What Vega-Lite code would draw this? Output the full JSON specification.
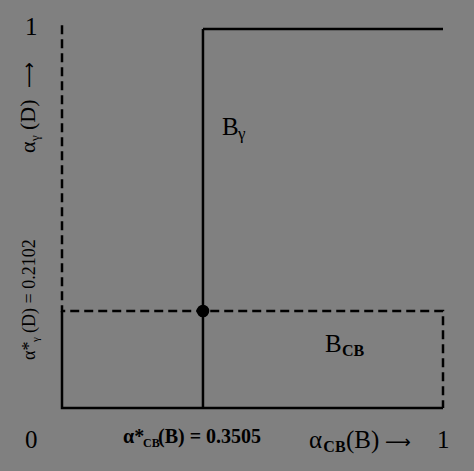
{
  "$schema": "https://vega.github.io/schema/vega-lite/v6.json",
  "background": "#808080",
  "autosize": "none",
  "width": 381,
  "height": 379,
  "padding": {"left": 62, "top": 29, "right": 31, "bottom": 63},
  "view": {"stroke": null},
  "datasets": {
    "edges": [
      {"seg": "left", "style": "solid", "order": 1, "x": 0, "y": 0.256},
      {"seg": "left", "style": "solid", "order": 2, "x": 0, "y": 0},
      {"seg": "left", "style": "solid", "order": 3, "x": 1, "y": 0},
      {"seg": "gamma", "style": "solid", "order": 1, "x": 0.37, "y": 0},
      {"seg": "gamma", "style": "solid", "order": 2, "x": 0.37, "y": 1},
      {"seg": "gamma", "style": "solid", "order": 3, "x": 1, "y": 1},
      {"seg": "cb", "style": "dashed", "order": 1, "x": 0, "y": 1.01},
      {"seg": "cb", "style": "dashed", "order": 2, "x": 0, "y": 0.256},
      {"seg": "cb", "style": "dashed", "order": 3, "x": 1, "y": 0.256},
      {"seg": "cb", "style": "dashed", "order": 4, "x": 1, "y": 0}
    ],
    "optimum": [{"x": 0.37, "y": 0.256}],
    "main": [
      {"label": "1", "x": -0.097, "y": 0.984},
      {"label": "0", "x": -0.097, "y": -0.1055},
      {"label": "B", "x": 0.42, "y": 0.7203},
      {"label": "B", "x": 0.69, "y": 0.1478},
      {"label": "α", "x": 0.648, "y": -0.1055},
      {"label": "(B)", "x": 0.7454, "y": -0.1055},
      {"label": "1", "x": 0.9843, "y": -0.1055}
    ],
    "arrowH": [{"label": "⟶", "x": 0.8478, "y": -0.1055}],
    "arrowV": [{"label": "⟶", "x": -0.0709, "y": 0.8443}],
    "subGamma": [{"label": "γ", "x": 0.462, "y": 0.7098}],
    "subCB": [
      {"label": "CB", "x": 0.7349, "y": 0.1372},
      {"label": "CB", "x": 0.686, "y": -0.1161}
    ],
    "boldMain": [
      {"label": "α*", "x": 0.1601, "y": -0.0923},
      {"label": "(B) = 0.3505", "x": 0.252, "y": -0.0923}
    ],
    "boldSub": [{"label": "CB", "x": 0.2126, "y": -0.1029}],
    "rotSmall": [
      {"label": "α*", "x": -0.0709, "y": 0.1266},
      {"label": "(D) = 0.2102", "x": -0.0709, "y": 0.1979}
    ],
    "rotSmallSub": [{"label": "γ", "x": -0.0604, "y": 0.1741}],
    "rotBig": [
      {"label": "α", "x": -0.0709, "y": 0.6728},
      {"label": "(D)", "x": -0.0709, "y": 0.7335}
    ],
    "rotBigSub": [{"label": "γ", "x": -0.0604, "y": 0.7045}]
  },
  "encoding": {
    "x": {"field": "x", "type": "quantitative", "scale": {"domain": [0, 1], "nice": false, "zero": false}, "axis": null},
    "y": {"field": "y", "type": "quantitative", "scale": {"domain": [0, 1], "nice": false, "zero": false}, "axis": null}
  },
  "layer": [
    {
      "data": {"name": "edges"},
      "mark": {"type": "line", "color": "black", "strokeWidth": 2.5},
      "encoding": {
        "detail": {"field": "seg"},
        "order": {"field": "order"},
        "strokeDash": {
          "field": "style",
          "type": "nominal",
          "scale": {"domain": ["solid", "dashed"], "range": [[1, 0], [9, 5]]},
          "legend": null
        }
      }
    },
    {
      "data": {"name": "optimum"},
      "mark": {"type": "circle", "color": "black", "opacity": 1, "size": 160}
    },
    {
      "data": {"name": "main"},
      "mark": {"type": "text", "font": "Liberation Serif", "fontSize": 25, "align": "left", "baseline": "alphabetic", "color": "black"},
      "encoding": {"text": {"field": "label"}}
    },
    {
      "data": {"name": "arrowH"},
      "mark": {"type": "text", "font": "DejaVu Sans", "fontSize": 18, "align": "left", "baseline": "alphabetic", "color": "black"},
      "encoding": {"text": {"field": "label"}}
    },
    {
      "data": {"name": "arrowV"},
      "mark": {"type": "text", "font": "DejaVu Sans", "fontSize": 18, "angle": 270, "align": "left", "baseline": "alphabetic", "color": "black"},
      "encoding": {"text": {"field": "label"}}
    },
    {
      "data": {"name": "subGamma"},
      "mark": {"type": "text", "font": "Liberation Serif", "fontSize": 17, "align": "left", "baseline": "alphabetic", "color": "black"},
      "encoding": {"text": {"field": "label"}}
    },
    {
      "data": {"name": "subCB"},
      "mark": {"type": "text", "font": "Liberation Serif", "fontSize": 16, "fontWeight": "bold", "align": "left", "baseline": "alphabetic", "color": "black"},
      "encoding": {"text": {"field": "label"}}
    },
    {
      "data": {"name": "boldMain"},
      "mark": {"type": "text", "font": "Liberation Serif", "fontSize": 20, "fontWeight": "bold", "align": "left", "baseline": "alphabetic", "color": "black"},
      "encoding": {"text": {"field": "label"}}
    },
    {
      "data": {"name": "boldSub"},
      "mark": {"type": "text", "font": "Liberation Serif", "fontSize": 12, "fontWeight": "bold", "align": "left", "baseline": "alphabetic", "color": "black"},
      "encoding": {"text": {"field": "label"}}
    },
    {
      "data": {"name": "rotSmall"},
      "mark": {"type": "text", "font": "Liberation Serif", "fontSize": 18, "angle": 270, "align": "left", "baseline": "alphabetic", "color": "black"},
      "encoding": {"text": {"field": "label"}}
    },
    {
      "data": {"name": "rotSmallSub"},
      "mark": {"type": "text", "font": "Liberation Serif", "fontSize": 11, "angle": 270, "align": "left", "baseline": "alphabetic", "color": "black"},
      "encoding": {"text": {"field": "label"}}
    },
    {
      "data": {"name": "rotBig"},
      "mark": {"type": "text", "font": "Liberation Serif", "fontSize": 22, "angle": 270, "align": "left", "baseline": "alphabetic", "color": "black"},
      "encoding": {"text": {"field": "label"}}
    },
    {
      "data": {"name": "rotBigSub"},
      "mark": {"type": "text", "font": "Liberation Serif", "fontSize": 13, "angle": 270, "align": "left", "baseline": "alphabetic", "color": "black"},
      "encoding": {"text": {"field": "label"}}
    }
  ]
}
